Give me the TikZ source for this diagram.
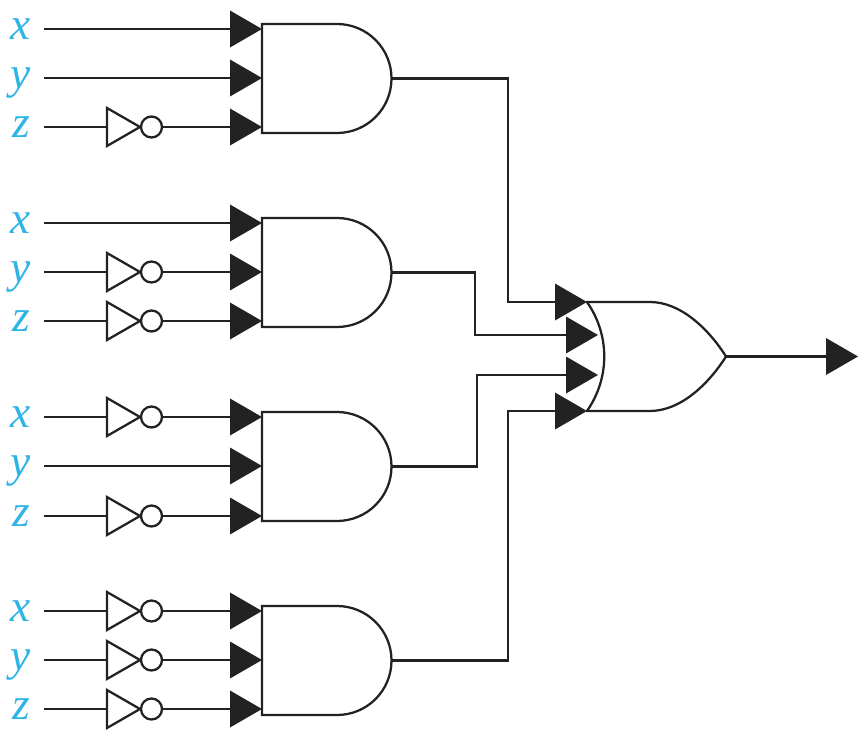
\documentclass[tikz,border=0pt]{standalone}
\usepackage{fontspec}
\setmainfont{Liberation Serif}
\definecolor{lab}{HTML}{2FB4E6}
\definecolor{ink}{HTML}{222222}
\tikzset{
  wire/.style={draw=ink,line width=1.9pt},
  gateline/.style={draw=ink,line width=1.7pt,fill=white},
  head/.style={fill=ink,draw=none},
  varlab/.style={text=lab,font=\fontsize{34}{34}\selectfont\itshape,anchor=base,inner sep=0pt},
  pics/andgate/.style={code={
    \path[gateline] (262,-54.5) -- (337,-54.5) arc[start angle=-90,end angle=90,radius=54.5] -- (262,54.5) -- cycle;
    \coordinate (-out) at (391,0);
  }},
  pics/notgate/.style={code={
    \path[gateline] (107,-19) -- (140,0) -- (107,19) -- cycle;
    \path[gateline] (151.5,0) circle[radius=10.5];
    \coordinate (-in) at (107,0);
    \coordinate (-out) at (162,0);
  }},
  pics/tip/.style={code={
    \path[head] (0,-18.5) -- (32,0) -- (0,18.5) -- cycle;
    \coordinate (-in) at (1,0);
  }},
}
\newcommand{\inrow}[4]{% name, label, y, inverted
  \node[varlab] (#1lab) at (21,#3+10.5) {#2};
  \coordinate (#1start) at (44,#3);
  \path (230,#3) pic (#1tip) {tip};
  \ifnum#4=1
    \path (0,#3) pic (#1not) {notgate};
    \draw[wire] (#1start) -- (#1not-in);
    \draw[wire] (#1not-out) -- (#1tip-in);
  \else
    \draw[wire] (#1start) -- (#1tip-in);
  \fi
}
\begin{document}
\begin{tikzpicture}[x=0.75pt,y=-0.75pt]
\useasboundingbox (0,0) rectangle (868,738);
% row inputs
\inrow{a1}{x}{29}{0}\inrow{a2}{y}{78}{0}\inrow{a3}{z}{127}{1}
\inrow{b1}{x}{223}{0}\inrow{b2}{y}{272}{1}\inrow{b3}{z}{321}{1}
\inrow{c1}{x}{417}{1}\inrow{c2}{y}{466}{0}\inrow{c3}{z}{516}{1}
\inrow{d1}{x}{611}{1}\inrow{d2}{y}{660}{1}\inrow{d3}{z}{709}{1}
% and gates
\path (0,78.5) pic (ga) {andgate};
\path (0,272.5) pic (gb) {andgate};
\path (0,466.5) pic (gc) {andgate};
\path (0,660.5) pic (gd) {andgate};
% or gate input wires
\path (555,302) pic (o1) {tip};
\path (566,335) pic (o2) {tip};
\path (566,375) pic (o3) {tip};
\path (555,411) pic (o4) {tip};
\draw[wire] (ga-out) -- (508,78.5) -- (508,302) -- (o1-in);
\draw[wire] (gb-out) -- (475,272.5) -- (475,335) -- (o2-in);
\draw[wire] (gc-out) -- (477,466.5) -- (477,375) -- (o3-in);
\draw[wire] (gd-out) -- (508,660.5) -- (508,411) -- (o4-in);
% or gate
\path[gateline,fill=none] (586,302) -- (650,302) .. controls (680,302) and (708,328) .. (726,356.5)
  .. controls (708,385) and (680,411) .. (650,411) -- (586,411);
\path[gateline,fill=none] (587,302) .. controls (610,335) and (610,378) .. (587,411);
\coordinate (orout) at (726,356.5);
\path (826,356.5) pic (outtip) {tip};
\draw[wire] (orout) -- (outtip-in);
\end{tikzpicture}
\end{document}
